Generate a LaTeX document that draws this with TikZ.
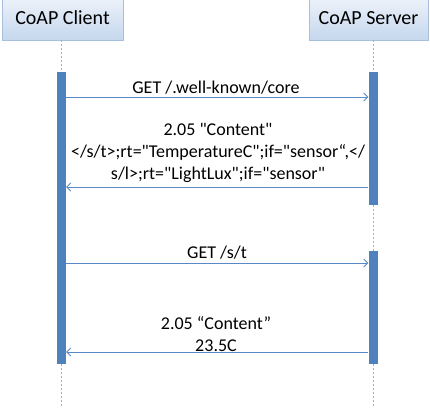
\documentclass[tikz,border=0pt]{standalone}
\usepackage{fontspec}
\setmainfont{Carlito}[Ligatures=TeXOff]
\usetikzlibrary{arrows.meta,positioning}
\definecolor{barblue}{HTML}{4F81BD}
\definecolor{msgblue}{HTML}{5A8AC6}
\definecolor{lifeline}{HTML}{95B3D7}
\definecolor{headtop}{HTML}{EEF3FA}
\definecolor{headbot}{HTML}{C5D7EE}
\definecolor{headline}{HTML}{A7BFDE}
\tikzset{
  head/.style={
    draw=headline, top color=headtop, bottom color=headbot,
    minimum height=44pt, inner sep=0pt,
    font=\fontsize{20}{24}\selectfont
  },
  life/.style={draw=lifeline, dash pattern=on 2pt off 2pt, line width=0.8pt},
  actbar/.style={fill=barblue, draw=none, minimum width=9pt, inner sep=0pt},
  msg/.style={-{Straight Barb[length=4pt,width=8pt]}, draw=msgblue, line width=0.8pt},
  lbl/.style={font=\fontsize{18}{22}\selectfont, align=center, inner sep=1pt}
}
\begin{document}
\begin{tikzpicture}[x=1pt, y=-1pt]
        \useasboundingbox (0,0) rectangle (430,408);
        % headers
        \node[head, minimum width=121pt] (client) at (62.5,18) {CoAP Client};
        \node[head, minimum width=119pt] (server) at (368.5,18) {CoAP Server};
        \coordinate (bottom) at (0,408);
        % activation bars
        \node[actbar, minimum height=292pt] (cbar) at (61.5,218) {};
        \node[actbar, minimum height=133pt] (sbar1) at (373,138.5) {};
        \node[actbar, minimum height=113pt] (sbar2) at (373,307.5) {};
        % lifelines
        \draw[life] (cbar.center |- client.south) -- (cbar.north);
        \draw[life] (cbar.south) -- (cbar.center |- bottom);
        \draw[life] (sbar1.center |- server.south) -- (sbar1.north);
        \draw[life] (sbar1.south) -- (sbar2.north);
        \draw[life] (sbar2.south) -- (sbar2.center |- bottom);
        % messages
        \coordinate (m1) at (0,97);
        \coordinate (m2) at (0,187);
        \coordinate (m3) at (0,263);
        \coordinate (m4) at (0,352);
        \draw[msg] (cbar.east |- m1) -- (sbar1.west |- m1);
        \draw[msg] (sbar1.west |- m2) -- (cbar.east |- m2);
        \draw[msg] (cbar.east |- m3) -- (sbar2.west |- m3);
        \draw[msg] (sbar2.west |- m4) -- (cbar.east |- m4);
        % labels
        \node[lbl] (l1) at (216,88) {GET /.well-known/core};
        \node[lbl] (l2) at (218,153) {2.05 "Content"\\</s/t>;rt="TemperatureC";if="sensor“,</\\s/l>;rt="LightLux";if="sensor"};
        \node[lbl] (l3) at (217,253) {GET /s/t};
        \node[lbl] (l4) at (216,334) {2.05 “Content”\\23.5C};
      \end{tikzpicture}
\end{document}
